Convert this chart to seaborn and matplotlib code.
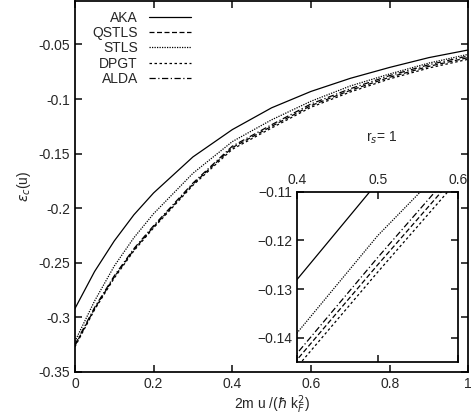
import numpy as np
import seaborn as sns
import matplotlib.pyplot as plt

sns.set_theme(style="ticks")
plt.rcParams['font.family'] = ['Liberation Sans', 'DejaVu Sans']

x = [0, 0.05, 0.1, 0.15, 0.2, 0.3, 0.4, 0.5, 0.6, 0.7, 0.8, 0.9, 1.0]
aka = [-0.292, -0.258, -0.230, -0.206, -0.186, -0.153, -0.128, -0.108, -0.093, -0.081, -0.071, -0.062, -0.055]
qstls = [-0.326, -0.292, -0.263, -0.238, -0.217, -0.178, -0.1445, -0.125, -0.106, -0.092, -0.080, -0.070, -0.062]
stls = [-0.322, -0.285, -0.253, -0.227, -0.205, -0.168, -0.139, -0.119, -0.102, -0.088, -0.077, -0.067, -0.059]
dpgt = [-0.327, -0.293, -0.264, -0.239, -0.218, -0.179, -0.146, -0.1265, -0.1075, -0.0935, -0.0815, -0.0715, -0.0635]
alda = [-0.325, -0.291, -0.262, -0.237, -0.216, -0.177, -0.1432, -0.1235, -0.1045, -0.0905, -0.0785, -0.0685, -0.0605]

series = [("AKA", aka, '-'), ("QSTLS", qstls, (0, (4, 2))), ("STLS", stls, (0, (1, 1))),
          ("DPGT", dpgt, (0, (2, 2))), ("ALDA", alda, (0, (5, 2, 1, 2)))]

fig = plt.figure(figsize=(4.74, 4.17), dpi=100)
ax = fig.add_axes([0.158, 0.108, 0.83, 0.89])
for name, y, ls in series:
    sns.lineplot(x=x, y=y, ax=ax, color='black', lw=0.9, linestyle=ls, label=name)
ax.set_xlim(0, 1)
ax.set_ylim(-0.35, -0.01)
ax.set_xticks([0, 0.2, 0.4, 0.6, 0.8, 1])
ax.set_xticklabels(['0', '0.2', '0.4', '0.6', '0.8', '1'])
ax.set_yticks([-0.35, -0.3, -0.25, -0.2, -0.15, -0.1, -0.05])
ax.set_yticklabels(['-0.35', '-0.3', '-0.25', '-0.2', '-0.15', '-0.1', '-0.05'])
ax.tick_params(direction='in', top=True, right=True, labelsize=10, length=5)
for s in ax.spines.values():
    s.set_color('black')
ax.set_xlabel(r'2m u /($\hbar$ k$^2_F$)', fontsize=10, labelpad=2)
ax.set_ylabel(r'$\varepsilon_c$(u)', fontsize=10)
ax.legend(loc='upper left', bbox_to_anchor=(0.02, 1.0), frameon=False, markerfirst=False,
          fontsize=10, handlelength=3, labelspacing=0.1, borderaxespad=0.3)
ax.text(0.74, 0.62, r'r$_s$= 1', transform=ax.transAxes, fontsize=10)

ins = fig.add_axes([0.627, 0.132, 0.34, 0.408])
for name, y, ls in series:
    sns.lineplot(x=x, y=y, ax=ins, color='black', lw=0.9, linestyle=ls, legend=False)
ins.set_xlim(0.4, 0.6)
ins.set_ylim(-0.145, -0.11)
ins.set_xticks([0.4, 0.5, 0.6])
ins.set_yticks([-0.14, -0.13, -0.12, -0.11])
ins.xaxis.tick_top()
ins.tick_params(direction='in', right=True, bottom=True, labelsize=10, length=5)
for s in ins.spines.values():
    s.set_color('black')

fig.savefig('out.png', dpi=100)
